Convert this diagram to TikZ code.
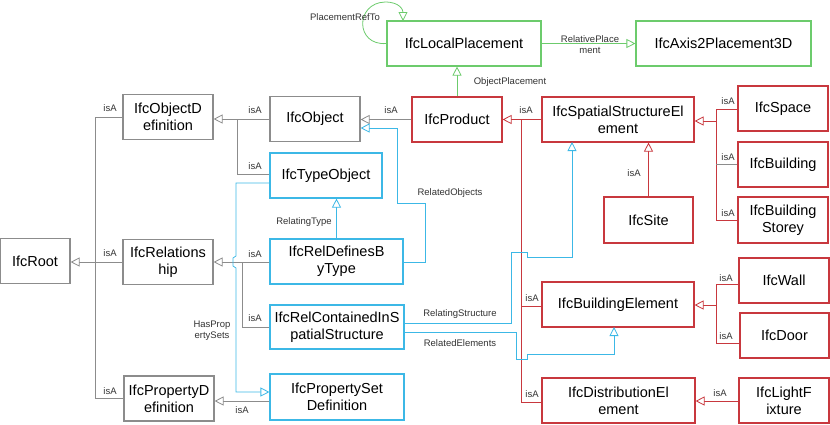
\documentclass[tikz,border=0pt]{standalone}
\usepackage{fontspec}
\setmainfont{Liberation Sans}
\usetikzlibrary{arrows.meta}
\definecolor{cg}{HTML}{8C8C8C}
\definecolor{cr}{HTML}{C8383E}
\definecolor{cb}{HTML}{3CB8E6}
\definecolor{cgr}{HTML}{6CCB6C}
\begin{document}
\begin{tikzpicture}[x=1pt,y=-1pt,
 box/.style={draw,line width=1.1pt,minimum height=45,inner sep=0pt,align=center,font=\fontsize{14.5}{17}\selectfont},
 gb/.style={box,draw=cg},rb/.style={box,draw=cr},bb/.style={box,draw=cb},grb/.style={box,draw=cgr},
 lab/.style={font=\fontsize{9.5}{11}\selectfont,text=black!80,align=center,inner sep=1pt},
 G/.style={draw=cg,line width=0.8pt},R/.style={draw=cr,line width=0.8pt},
 B/.style={draw=cb,line width=0.8pt},N/.style={draw=cgr,line width=0.8pt},
 tri/.style={-{Triangle[open,length=9pt,width=9pt,fill=white]}}]
\useasboundingbox (0,0) rectangle (830,424);
% nodes
\node[gb,minimum width=70] (Root) at (35,261) {IfcRoot};
\node[gb,minimum width=90] (ObjDef) at (168,117) {IfcObjectD\\efinition};
\node[gb,minimum width=90] (Rel) at (168,262) {IfcRelations\\hip};
\node[gb,minimum width=90] (PropDef) at (169,398.5) {IfcPropertyD\\efinition};
\node[gb,minimum width=90] (Object) at (315,119) {IfcObject};
\node[bb,minimum width=112] (TypeObj) at (326,175.5) {IfcTypeObject};
\node[bb,minimum width=133] (RelDef) at (336.5,261.5) {IfcRelDefinesB\\yType};
\node[bb,minimum width=134,minimum height=44] (RelCont) at (337,327) {IfcRelContainedInS\\patialStructure};
\node[bb,minimum width=134,minimum height=46] (PSD) at (337,397) {IfcPropertySet\\Definition};
\node[rb,minimum width=90] (Product) at (457,119.5) {IfcProduct};
\node[rb,minimum width=152] (SSE) at (618,119.5) {IfcSpatialStructureEl\\ement};
\node[rb,minimum width=89,minimum height=46] (Site) at (648.5,220) {IfcSite};
\node[rb,minimum width=90] (Space) at (783,108.5) {IfcSpace};
\node[rb,minimum width=90] (Building) at (783,164.5) {IfcBuilding};
\node[rb,minimum width=90,minimum height=46] (Storey) at (783,220) {IfcBuilding\\Storey};
\node[rb,minimum width=152] (BE) at (618,304.5) {IfcBuildingElement};
\node[rb,minimum width=90] (Wall) at (784,280.5) {IfcWall};
\node[rb,minimum width=89] (Door) at (784.5,335.5) {IfcDoor};
\node[rb,minimum width=153] (DE) at (618.5,400.5) {IfcDistributionEl\\ement};
\node[rb,minimum width=90] (Light) at (784,400.5) {IfcLightF\\ixture};
\node[grb,minimum width=154] (LP) at (464,43.5) {IfcLocalPlacement};
\node[grb,minimum width=175] (Axis) at (723.5,43.5) {IfcAxis2Placement3D};
% gray isA
\draw[G] (ObjDef.west) -| (95,261);
\draw[G] (PropDef.west) -| (95,261);
\draw[G,tri] (Rel.west) -- (Root.east |- Rel.west);
\node[lab] (l1) at (110,108) {isA};
\node[lab] (l2) at (110,253) {isA};
\node[lab] (l3) at (110,391) {isA};
\draw[G] (TypeObj.west |- 0,174) -| (237,119);
\draw[G,tri] (Object.west) -- (ObjDef.east |- Object.west);
\node[lab] (l4) at (255,110) {isA};
\node[lab] (l5) at (255,166) {isA};
\draw[G] (RelCont.west) -| (242,262);
\draw[G,tri] (RelDef.west |- 0,262) -- (Rel.east |- 0,262);
\node[lab] (l6) at (255,254) {isA};
\node[lab] (l7) at (255,318) {isA};
\draw[G,tri] (PSD.west |- 0,401) -- (PropDef.east |- 0,401);
\node[lab] (l8) at (242,410) {isA};
\draw[G,tri] (Product.west) -- (Object.east |- Product.west);
\node[lab] (l9) at (391,110) {isA};
% red
\draw[R] (BE.west |- 0,306) -| (521,119.5);
\draw[R] (DE.west |- 0,402) -| (521,119.5);
\draw[R,tri] (SSE.west) -- (Product.east |- SSE.west);
\node[lab] (l10) at (526,110) {isA};
\node[lab] (l11) at (532,298) {isA};
\node[lab] (l12) at (532,394) {isA};
\draw[R] (Space.west |- 0,109) -| (716,121);
\draw[R] (Storey.west) -| (716,121);
\draw[G] (Building.west) -- (716,164.5);
\draw[R,tri] (716,121) -- (SSE.east |- 0,121);
\node[lab] (l13) at (728,101) {isA};
\node[lab] (l14) at (728,157) {isA};
\node[lab] (l15) at (728,213) {isA};
\draw[R,tri] (Site.north) -- (Site.north |- SSE.south);
\node[lab] (l16) at (634,173) {isA};
\draw[R] (Wall.west |- 0,284) -| (716,305);
\draw[R] (Door.west |- 0,343) -| (716,305);
\draw[R,tri] (716,305) -- (BE.east |- 0,305);
\node[lab] (l17) at (726,278) {isA};
\node[lab] (l18) at (726,336) {isA};
\draw[R,tri] (Light.west |- 0,401) -- (DE.east |- 0,401);
\node[lab] (l19) at (720,393) {isA};
% blue
\draw[B,tri] (RelDef.east |- 0,262) -- (425,262) -- (425,203) -- (397,203) -- (397,128) -- (Object.east |- 0,128);
\node[lab] (l20) at (450,193) {RelatedObjects};
\draw[B,tri] (RelDef.north) -- (RelDef.north |- TypeObj.south);
\node[lab] (l21) at (304,222) {RelatingType};
\draw[B,tri] (TypeObj.west |- 0,183) -- (236,183) -- (236,256) -- (233,258) -- (233,266) -- (236,268) -- (236,392) -- (PSD.west |- 0,392);
\node[lab] (l22) at (212,331) {HasProp\\ertySets};
\draw[B,tri] (RelCont.east |- 0,323) -- (511,323) -- (511,252) -- (527,252) -- (527,257) -- (572,257) -- (572,142);
\node[lab] (l23) at (460,314) {RelatingStructure};
\draw[B,tri] (RelCont.east |- 0,332) -- (516,332) -- (516,359) -- (527,359) -- (527,354) -- (614,354) -- (614,327);
\node[lab] (l24) at (460,343) {RelatedElements};
% green
\draw[N,tri] (Product.north) -- (Product.north |- LP.south);
\node[lab] (l25) at (510,82) {ObjectPlacement};
\draw[N,tri] (LP.west) .. controls (355,46) and (355,3) .. (385,2) .. controls (400,2) and (403,10) .. (403,21);
\node[lab] (l27) at (345,17) {PlacementRefTo};
\draw[N,tri] (LP.east) -- (Axis.west);
\node[lab] (l26) at (590,45) {RelativePlace\\ment};
\end{tikzpicture}
\end{document}
